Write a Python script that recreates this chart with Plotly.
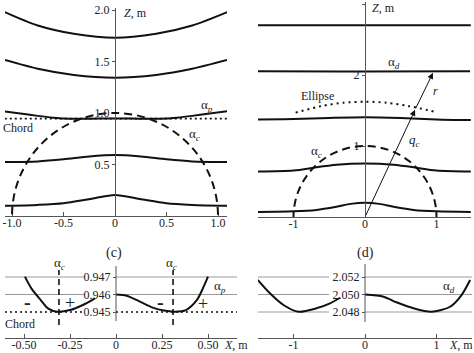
import plotly.graph_objects as go

W, H = 474, 353
FONT = "Liberation Serif, serif"

# ---------------- data: panel (c) ----------------
C_X_TOP = [-1.07, -0.75, -0.4, 0.0, 0.4, 0.75, 1.09]
C_Z_1 = [1.98, 1.85, 1.77, 1.73, 1.77, 1.85, 1.98]
C_Z_2 = [1.515, 1.43, 1.37, 1.343, 1.37, 1.43, 1.515]
C_X_P = [-1.07, -0.9, -0.75, -0.6, -0.5, -0.32, -0.15, 0.0, 0.15, 0.32, 0.5, 0.6, 0.75, 0.9, 1.09]
C_Z_P = [1.015, 0.992, 0.972, 0.955, 0.947, 0.945, 0.9455, 0.946, 0.9455, 0.945, 0.947, 0.955, 0.972, 0.992, 1.017]
C_X_4 = [-1.07, -0.75, -0.5, -0.25, 0.0, 0.25, 0.5, 0.75, 1.09]
C_Z_4 = [0.525, 0.53, 0.55, 0.578, 0.592, 0.578, 0.55, 0.53, 0.525]
C_X_5 = [-1.07, -0.75, -0.5, -0.24, 0.0, 0.24, 0.5, 0.75, 1.09]
C_Z_5 = [0.10, 0.108, 0.123, 0.165, 0.204, 0.165, 0.123, 0.108, 0.10]
CHORD_Z = 0.945
CIRCLE_R = 1.0
C_XTICKS = [-1.0, -0.5, 0.0, 0.5, 1.0]
C_XTEXT = ["-1.0", "-0.5", "0", "0.5", "1.0"]
C_YTICKS = [0.5, 1.0, 1.5, 2.0]
C_YTEXT = ["0.5", "1.0", "1.5", "2.0"]

# ---------------- data: panel (d) ----------------
D_X = [-1.5, -1.0, -0.5, 0.0, 0.5, 1.0, 1.48]
D_Z_TOP = [2.70, 2.70, 2.70, 2.70, 2.70, 2.70, 2.70]
D_Z_3 = [1.375, 1.38, 1.395, 1.405, 1.395, 1.375, 1.365]
D_X_B = [-1.5, -1.0, -0.68, -0.4, -0.2, 0.0, 0.2, 0.4, 0.68, 1.0, 1.48]
D_Z_4 = [0.64, 0.655, 0.70, 0.735, 0.75, 0.755, 0.75, 0.735, 0.70, 0.655, 0.64]
D_Z_5 = [0.072, 0.08, 0.10, 0.145, 0.185, 0.20, 0.185, 0.145, 0.10, 0.08, 0.072]
ELL_X = [-0.97, -0.6, -0.3, 0.0, 0.3, 0.6, 0.98]
ELL_Z = [1.47, 1.565, 1.61, 1.624, 1.61, 1.565, 1.482]
QC_TIP = (0.70, 1.51)
R_TIP = (0.95, 2.03)
D_XTICKS = [-1, 0, 1]
D_YTICKS = [1, 2, 3]

# ---------------- data: panel (e) ----------------
E_X_L = [-0.495, -0.46, -0.41, -0.37, -0.32, -0.25, -0.18, -0.114]
E_Z_L = [0.94702, 0.94635, 0.94569, 0.94521, 0.94502, 0.94511, 0.9454, 0.94578]
E_X_R = [0.0, 0.058, 0.13, 0.2, 0.26, 0.32, 0.38, 0.44, 0.47, 0.50]
E_Z_R = [0.94600, 0.94593, 0.94559, 0.94525, 0.94508, 0.94502, 0.94511, 0.94569, 0.9463, 0.94702]
E_AC_X = 0.31
E_AC_Z = [0.94426, 0.9474]
E_YTICKS = [0.945, 0.946, 0.947]
E_XTICKS = [-0.5, -0.25, 0.0, 0.25, 0.5]
E_XTEXT = ["-0.50", "-0.25", "0", "0.25", "0.50"]

# ---------------- data: panel (f) ----------------
F_X_L = [-1.5, -1.33, -1.14, -0.93, -0.68, -0.49, -0.35]
F_Z_L = [2.05166, 2.05014, 2.0488, 2.04803, 2.04842, 2.04899, 2.04963]
F_X_R = [0.0, 0.26, 0.44, 0.68, 0.93, 1.19, 1.35, 1.47]
F_Z_R = [2.0500, 2.04975, 2.04911, 2.04842, 2.04803, 2.0486, 2.04994, 2.05166]
F_YTICKS = [2.048, 2.050, 2.052]
F_XTICKS = [-1, 0, 1]


def PX(x):
    return x / W


def PY(y):
    return 1 - y / H


fig = go.Figure()
BLK = "#111"
AX = "#555"


def line(x, y, xa, ya, width=2, dash=None, color=BLK, shape="spline"):
    fig.add_trace(go.Scatter(x=x, y=y, xaxis=xa, yaxis=ya, mode="lines",
                             line=dict(color=color, width=width, dash=dash, shape=shape,
                                       smoothing=0.8),
                             hoverinfo="skip"))


# panel c
for z in (C_Z_1, C_Z_2):
    line(C_X_TOP, z, "x", "y")
line(C_X_P, C_Z_P, "x", "y")
line(C_X_4, C_Z_4, "x", "y")
line(C_X_5, C_Z_5, "x", "y")
line([C_X_TOP[0], C_X_TOP[-1]], [CHORD_Z, CHORD_Z], "x", "y", width=1.6, dash="2px,3px", shape="linear")

# panel d
line(D_X, D_Z_TOP, "x2", "y2")
line(F_X_L + F_X_R, F_Z_L + F_Z_R, "x2", "y2", shape="linear")
line(D_X, D_Z_3, "x2", "y2")
line(D_X_B, D_Z_4, "x2", "y2")
line(D_X_B, D_Z_5, "x2", "y2")
line(ELL_X, ELL_Z, "x2", "y2", width=2, dash="2px,4px")

# panel e
line(E_X_L, E_Z_L, "x3", "y3")
line(E_X_R, E_Z_R, "x3", "y3")
for sx in (-E_AC_X, E_AC_X):
    line([sx, sx], E_AC_Z, "x3", "y3", width=1.6, dash="6px,4px", shape="linear")

# panel f
line(F_X_L, F_Z_L, "x4", "y4")
line(F_X_R, F_Z_R, "x4", "y4")

tickfont = dict(family=FONT, size=12, color="#222")

# axis ranges from pixel geometry
c_xr = [(5 - 115) / 103, (227 - 115) / 103]
c_yr = [0, (216 - 8) / 103]
d_xr = [(258 - 365) / 71.5, (471 - 365) / 71.5]
d_yr = [0, (217 - 2) / 71]
e_xr = [(5 - 116) / 184, (237 - 116) / 184]
e_yr = [0.945 - 26 / 17500, 0.945 + 50 / 17500]
f_xr = [(258 - 365) / 71.5, (472 - 365) / 71.5]
f_yr = [2.048 - 26 / 8750, 2.048 + 50 / 8750]

common_x = dict(showgrid=False, zeroline=False, showline=True, linecolor=AX, linewidth=1,
                ticks="inside", ticklen=4, tickcolor=AX, tickfont=tickfont, automargin=False,
                ticklabelstandoff=-4)
common_y = dict(showgrid=False, zeroline=False, anchor="free", ticks="outside", ticklen=3,
                tickcolor=AX, tickfont=tickfont, automargin=False, linecolor=AX, linewidth=1)

fig.update_layout(
    template="none",
    width=W, height=H, margin=dict(l=0, r=0, t=0, b=0),
    paper_bgcolor="white", plot_bgcolor="rgba(0,0,0,0)", showlegend=False,
    font=dict(family=FONT, size=12, color="#222"),
    xaxis=dict(domain=[PX(5), PX(227)], range=c_xr, anchor="y",
               tickvals=C_XTICKS, ticktext=C_XTEXT, **common_x),
    yaxis=dict(domain=[PY(216), PY(8)], range=c_yr, position=PX(115), showline=True,
               tickvals=C_YTICKS, ticktext=C_YTEXT, **common_y),
    xaxis2=dict(domain=[PX(258), PX(471)], range=d_xr, anchor="y2",
                tickvals=D_XTICKS, ticktext=[str(v) for v in D_XTICKS], **common_x),
    yaxis2=dict(domain=[PY(217), PY(2)], range=d_yr, position=PX(365), showline=True,
                tickvals=D_YTICKS, ticktext=[str(v) for v in D_YTICKS], **common_y),
    xaxis3=dict(domain=[PX(5), PX(237)], range=e_xr, anchor="y3",
                tickvals=E_XTICKS, ticktext=E_XTEXT, **common_x),
    yaxis3=dict(domain=[PY(338), PY(262)], range=e_yr, position=PX(116), showline=False,
                tickvals=E_YTICKS, ticktext=[f"{v:.3f}" for v in E_YTICKS], **common_y),
    xaxis4=dict(domain=[PX(258), PX(472)], range=f_xr, anchor="y4",
                tickvals=F_XTICKS, ticktext=[str(v) for v in F_XTICKS], **common_x),
    yaxis4=dict(domain=[PY(338), PY(262)], range=f_yr, position=PX(365), showline=False,
                tickvals=F_YTICKS, ticktext=[f"{v:.3f}" for v in F_YTICKS], **common_y),
)

shapes = []
# semicircles alpha_c
for xr, yr in (("x", "y"), ("x2", "y2")):
    shapes.append(dict(type="circle", xref=xr, yref=yr, x0=-CIRCLE_R, x1=CIRCLE_R,
                       y0=-CIRCLE_R, y1=CIRCLE_R, line=dict(color=BLK, width=2, dash="8px,5px"),
                       layer="above"))
# gridlines in e and f (interrupted by tick labels)
GRID = "#9a9a9a"
for g in E_YTICKS:
    if g == CHORD_Z:
        continue
    shapes.append(dict(type="line", xref="x3", yref="y3", x0=e_xr[0], x1=(85 - 116) / 184,
                       y0=g, y1=g, line=dict(color=GRID, width=1), layer="below"))
    shapes.append(dict(type="line", xref="x3", yref="y3", x0=0, x1=e_xr[1],
                       y0=g, y1=g, line=dict(color=GRID, width=1), layer="below"))
# chord in e
shapes.append(dict(type="line", xref="x3", yref="y3", x0=e_xr[0], x1=(85 - 116) / 184,
                   y0=CHORD_Z, y1=CHORD_Z, line=dict(color=BLK, width=1.6, dash="2px,3px")))
shapes.append(dict(type="line", xref="x3", yref="y3", x0=0, x1=e_xr[1],
                   y0=CHORD_Z, y1=CHORD_Z, line=dict(color=BLK, width=1.6, dash="2px,3px")))
for g in F_YTICKS:
    shapes.append(dict(type="line", xref="x4", yref="y4", x0=f_xr[0], x1=(329 - 365) / 71.5,
                       y0=g, y1=g, line=dict(color=GRID, width=1), layer="below"))
    shapes.append(dict(type="line", xref="x4", yref="y4", x0=0, x1=f_xr[1],
                       y0=g, y1=g, line=dict(color=GRID, width=1), layer="below"))
# vertical axis lines of e and f
shapes.append(dict(type="line", xref="x3", yref="y3 domain", x0=0, x1=0,
                   y0=(338 - 321) / 76, y1=(338 - 266) / 76, line=dict(color=AX, width=1)))
shapes.append(dict(type="line", xref="x4", yref="y4 domain", x0=0, x1=0,
                   y0=(338 - 322) / 76, y1=(338 - 264) / 76, line=dict(color=AX, width=1)))
fig.update_layout(shapes=shapes)

ann = []


def text(x, y, s, size=12, xanchor="center"):
    ann.append(dict(x=PX(x), y=PY(y), xref="paper", yref="paper", text=s, showarrow=False,
                    xanchor=xanchor, yanchor="middle", font=dict(family=FONT, size=size, color="#222")))


A = "α"
text(207, 105, A + "<sub><i>p</i></sub>", 13)
text(18, 128, "Chord", 12)
text(194, 134, A + "<sub><i>c</i></sub>", 13)
text(122, 13, "<i>Z</i>, m", 12, "left")
text(370, 8, "<i>Z</i>, m", 12, "left")
text(394, 63, A + "<sub><i>d</i></sub>", 13)
text(317, 96, "Ellipse", 12)
text(435, 91, "<i>r</i>", 12)
text(414, 140, "<i>q</i><sub><i>c</i></sub>", 13)
text(316, 151, A + "<sub><i>c</i></sub>", 13)
text(114, 253, "(c)", 14)
text(365, 253, "(d)", 14)
text(59, 263, A + "<sub><i>c</i></sub>", 13)
text(171, 263, A + "<sub><i>c</i></sub>", 13)
text(220, 286, A + "<sub><i>p</i></sub>", 13)
text(20, 324, "Chord", 12)
text(27, 302, "<b>-</b>", 20)
text(70, 303, "+", 18)
text(160, 302, "<b>-</b>", 20)
text(203, 304, "+", 18)
text(236, 345, "<i>X</i>, m", 12)
text(461, 345, "<i>X</i>, m", 12)
text(449, 286, A + "<sub><i>d</i></sub>", 13)

# arrows q_c and r
ann.append(dict(x=QC_TIP[0], y=QC_TIP[1], ax=0, ay=0, xref="x2", yref="y2", axref="x2", ayref="y2",
                text="", showarrow=True, arrowhead=2, arrowsize=1.2, arrowwidth=1, arrowcolor=BLK,
                standoff=0))
ann.append(dict(x=R_TIP[0], y=R_TIP[1], ax=QC_TIP[0], ay=QC_TIP[1], xref="x2", yref="y2",
                axref="x2", ayref="y2", text="", showarrow=True, arrowhead=2, arrowsize=1.2,
                arrowwidth=1, arrowcolor=BLK, standoff=0))
fig.update_layout(annotations=ann)

fig.write_html("out.html")
